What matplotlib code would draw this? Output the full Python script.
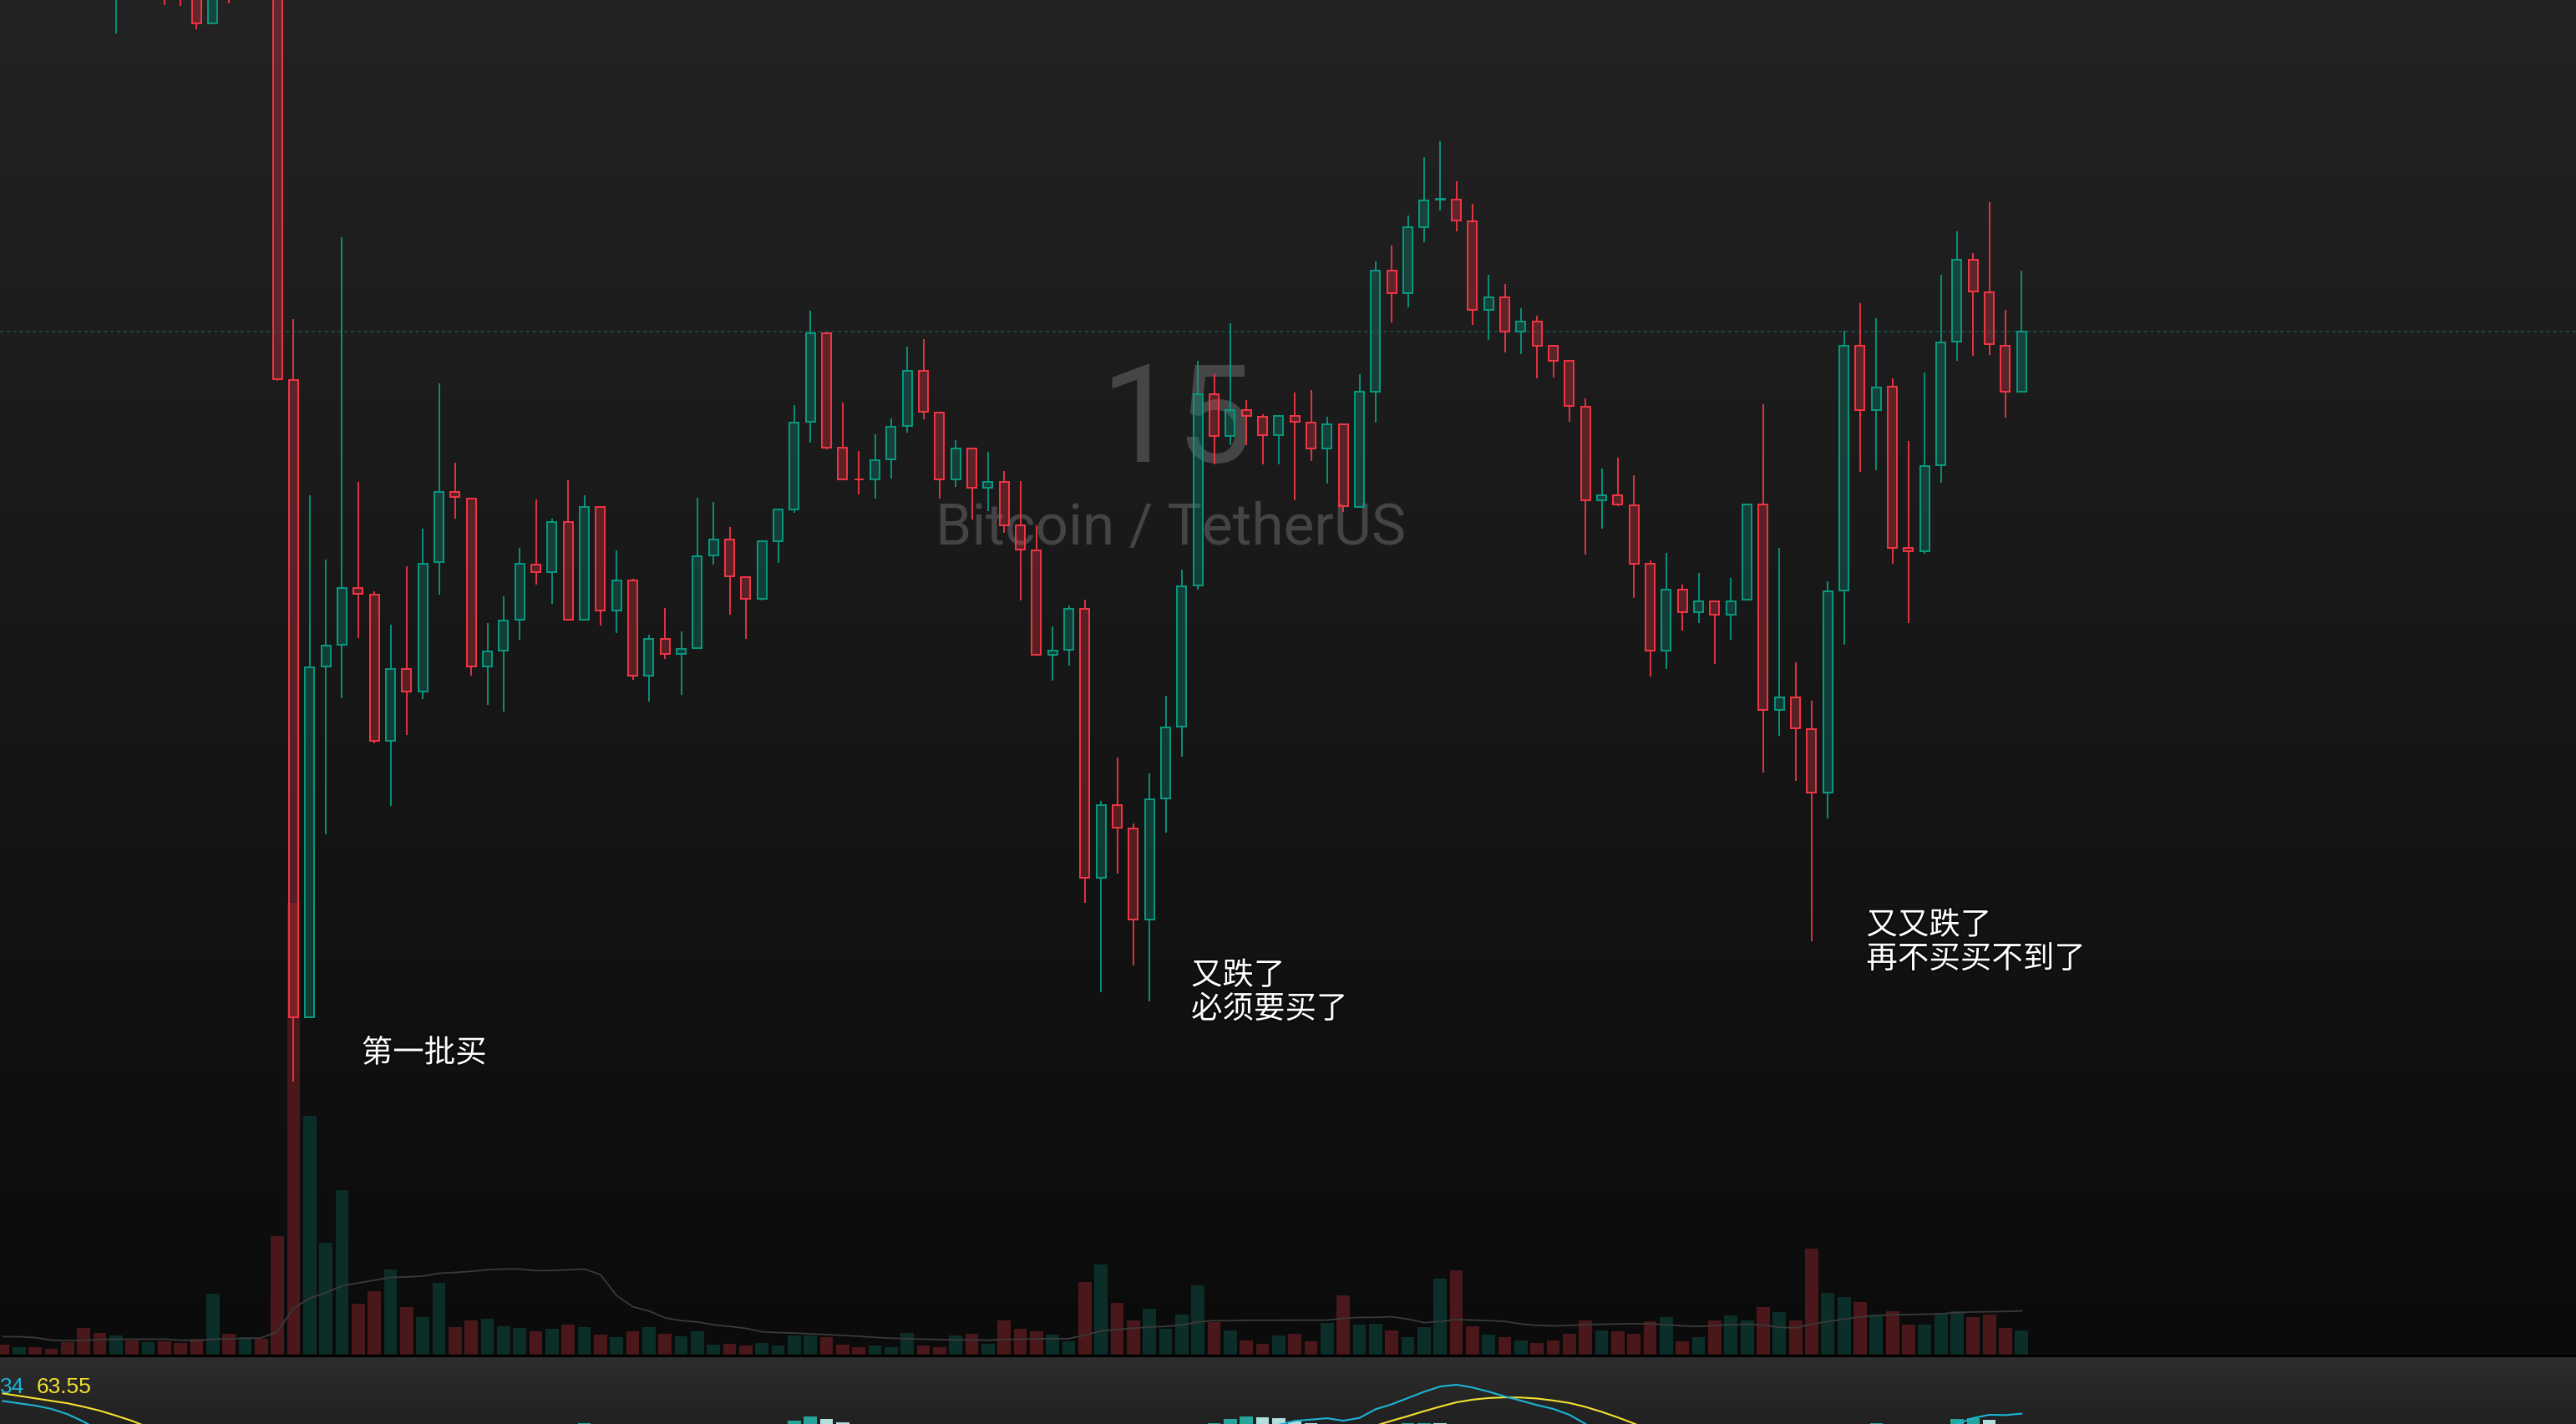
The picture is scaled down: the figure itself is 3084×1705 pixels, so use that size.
import numpy as np
import matplotlib
matplotlib.use("Agg")
import matplotlib.pyplot as plt
import matplotlib.patheffects as pe
from matplotlib.colors import LinearSegmentedColormap, to_rgba

nan = np.nan

# BTC/USDT 15m bars, first bars sit above the visible window
opens = [1060, 1054, 1060, 1048, 1040, 1030, 1020, 1006, 1018, 1012,
         1019, 1003, 1002, 985.2, 1003, 1000.5, 1008, 1004, 768.2, 380.4,
         594.1, 607.2, 641.7, 637.5, 548.6, 592.4, 578.9, 657.3, 700.3, 696.1,
         593.7, 603.8, 622.2, 656.0, 651.4, 681.9, 622.2, 691.0, 628.0, 646.2,
         588.2, 610.5, 601.5, 605.0, 661.5, 671.2, 648.5, 635.2, 670.2, 689.7,
         742.9, 796.7, 727.3, 708.0, 707.8, 719.8, 740.3, 774.0, 748.6, 707.7,
         726.7, 702.8, 706.3, 680.0, 664.8, 600.9, 604.1, 629.2, 465.5, 509.6,
         495.3, 440.1, 513.7, 557.4, 643.2, 759.4, 734.0, 750.0, 745.9, 734.9,
         746.5, 742.4, 726.7, 741.3, 691.0, 761.2, 835.0, 820.9, 861.5, 878.0,
         878.1, 864.7, 810.9, 818.6, 797.5, 803.8, 789.1, 780.0, 751.9, 694.9,
         698.1, 692.2, 656.3, 603.4, 640.6, 626.8, 633.4, 625.3, 634.6, 692.5,
         567.4, 575.2, 555.6, 517.0, 640.2, 789.0, 749.8, 764.1, 666.0, 664.2,
         716.5, 791.5, 841.6, 821.7, 789.3, 761.3]
highs = [1068, 1064, 1063, 1052, 1044, 1034, 1024, 1030, 1026, 1022,
         1022, 1008, 1006, 1010, 1008, 1012, 1014, 1010, 805.3, 698.2,
         659.0, 855.4, 706.2, 639.6, 619.4, 654.8, 677.6, 766.1, 718.0, 696.1,
         620.2, 636.7, 666.0, 695.8, 683.8, 707.2, 698.1, 691.0, 664.4, 647.5,
         613.5, 629.7, 615.1, 696.5, 693.9, 678.6, 648.5, 670.2, 689.7, 752.9,
         810.3, 796.7, 754.5, 725.0, 735.1, 744.8, 788.6, 793.1, 748.6, 731.6,
         726.7, 724.3, 712.7, 706.8, 679.7, 618.1, 631.0, 634.5, 511.9, 538.5,
         498.2, 529.1, 576.1, 652.9, 779.8, 771.9, 802.8, 756.2, 747.4, 746.5,
         760.5, 762.0, 745.9, 741.3, 771.6, 840.4, 849.9, 868.3, 904.0, 913.5,
         889.2, 875.3, 832.2, 826.5, 811.8, 807.3, 789.8, 780.0, 756.9, 714.2,
         721.2, 710.5, 658.3, 662.9, 644.0, 650.8, 633.4, 647.7, 692.5, 753.5,
         666.1, 596.3, 573.0, 645.8, 798.0, 814.9, 805.8, 769.1, 731.1, 772.8,
         832.3, 858.8, 845.4, 876.5, 811.1, 834.8]
lows = [1050, 1049, 1045, 1036, 1026, 1015, 1004, 979, 1008, 1005,
        996.6, 995.8, 981.5, 985.2, 997.6, 1000.2, 1001, 767.8, 341.6, 380.4,
        491.7, 574.7, 611.0, 547.0, 509.0, 552.4, 574.3, 637.5, 683.9, 588.6,
        570.5, 566.7, 610.2, 643.9, 632.3, 622.2, 622.2, 619.0, 614.4, 585.6,
        572.6, 598.5, 576.8, 605.0, 656.0, 625.5, 610.9, 634.0, 657.2, 687.7,
        730.2, 726.3, 707.8, 698.4, 696.2, 708.5, 736.4, 744.5, 696.3, 703.0,
        683.2, 688.7, 675.3, 633.9, 600.9, 585.5, 594.5, 450.1, 395.5, 468.1,
        412.1, 390.2, 493.0, 539.1, 640.9, 717.0, 728.7, 728.7, 717.0, 717.0,
        695.2, 719.1, 705.1, 688.2, 691.0, 742.1, 803.4, 812.5, 852.0, 871.5,
        858.8, 801.8, 792.7, 785.0, 784.1, 769.3, 769.8, 742.8, 662.0, 677.9,
        691.7, 635.6, 587.7, 592.5, 615.9, 620.6, 595.7, 610.4, 634.6, 529.4,
        551.8, 524.4, 426.7, 501.4, 607.2, 712.5, 713.4, 656.7, 620.6, 662.6,
        706.0, 780.0, 783.1, 783.7, 745.5, 761.3]
closes = [1054, 1060, 1048, 1040, 1030, 1020, 1008, 1018, 1012, 1019,
          1003, 1001, 985.2, 1003, 1000.5, 1008, 1004, 769.0, 380.4, 593.3,
          606.7, 641.7, 638.4, 548.6, 592.4, 578.9, 656.5, 700.3, 696.9, 593.7,
          603.0, 621.9, 656.3, 651.4, 681.9, 622.2, 691.0, 628.0, 646.2, 588.2,
          610.5, 601.5, 604.7, 661.1, 671.2, 648.8, 635.2, 670.2, 689.7, 742.5,
          796.7, 727.3, 707.8, 707.6, 719.5, 739.9, 774.0, 748.9, 707.7, 726.7,
          702.8, 706.3, 680.0, 665.1, 600.9, 603.8, 629.2, 465.5, 509.6, 495.9,
          440.1, 513.1, 556.9, 642.9, 759.4, 734.0, 750.0, 746.5, 734.9, 746.5,
          743.0, 726.7, 741.3, 691.7, 761.0, 835.0, 820.9, 861.5, 877.6, 878.5,
          865.1, 810.9, 818.6, 797.5, 803.8, 789.3, 780.2, 752.3, 694.9, 698.1,
          692.6, 656.7, 603.4, 640.6, 627.0, 633.4, 625.3, 633.7, 692.5, 567.4,
          575.2, 556.2, 517.0, 639.6, 789.0, 749.8, 763.8, 666.0, 664.2, 715.9,
          790.9, 841.6, 822.3, 790.0, 761.3, 797.8]
volumes = [6.1, 4.6, 4.6, 3.1, 7.6, 15.8, 13.2, 11.7, 8.6, 7.6,
           8.1, 7.1, 9.2, 37.1, 12.7, 10.7, 9.2, 71.7, 274.6, 144.9,
           68.1, 99.7, 31.0, 38.6, 51.4, 28.5, 22.9, 43.7, 16.3, 20.8,
           21.4, 17.3, 15.8, 14.2, 15.3, 18.3, 16.3, 12.2, 10.7, 14.2,
           16.3, 12.7, 11.2, 14.2, 6.1, 6.6, 5.6, 7.1, 5.6, 11.7,
           11.7, 10.7, 6.1, 4.6, 5.6, 4.6, 13.2, 5.6, 4.6, 11.7,
           12.7, 6.6, 20.8, 15.3, 14.2, 12.2, 8.1, 44.2, 54.9, 31.5,
           20.8, 27.5, 15.3, 24.4, 42.2, 19.8, 14.7, 8.6, 6.6, 11.7,
           12.7, 8.1, 19.3, 36.1, 18.3, 18.8, 14.7, 10.7, 16.8, 45.8,
           50.9, 17.3, 12.2, 10.2, 8.6, 7.1, 8.6, 12.7, 20.8, 14.7,
           14.2, 12.7, 20.3, 22.4, 8.1, 10.7, 20.8, 23.9, 20.8, 29.0,
           25.9, 20.8, 64.1, 37.6, 34.6, 32.0, 24.4, 26.4, 18.3, 18.3,
           24.9, 26.4, 22.9, 24.4, 15.8, 14.7]
volume_ma = [10.8, 10.7, 10.2, 8.6, 8.3, 8.5, 9.0, 9.2, 9.2, 9.2,
             9.2, 8.6, 8.3, 9.2, 9.5, 9.7, 10.0, 13.7, 28.1, 34.1,
             37.5, 41.7, 43.4, 45.1, 46.8, 47.1, 47.6, 49.3, 49.8, 50.5,
             51.4, 51.9, 51.9, 50.9, 51.0, 51.4, 51.9, 48.5, 35.8, 29.0,
             26.4, 22.2, 20.5, 19.7, 18.0, 17.0, 15.8, 13.7, 13.2, 12.9,
             12.5, 12.0, 11.5, 11.0, 10.3, 9.8, 9.5, 9.2, 9.0, 8.8,
             8.8, 8.6, 9.0, 9.2, 9.4, 9.5, 9.5, 11.7, 14.2, 15.1,
             15.9, 16.6, 17.0, 17.8, 19.7, 20.5, 20.5, 20.7, 20.7, 20.7,
             20.8, 20.8, 20.8, 21.9, 22.4, 22.5, 22.9, 21.4, 19.3, 20.0,
             21.2, 20.8, 20.5, 20.0, 18.5, 17.6, 17.3, 17.6, 18.1, 18.3,
             18.5, 18.6, 18.6, 18.0, 17.3, 17.0, 17.5, 18.0, 18.3, 17.8,
             16.4, 16.1, 18.3, 20.0, 21.4, 22.7, 23.6, 24.1, 24.2, 24.4,
             24.7, 25.4, 25.8, 25.9, 26.1, 26.4]

# MACD pane: only the top of the pane is on screen, nan where the line is out of view
macd_line = ([14.0, 12.6, 11.2, 9.2, 6.0, 1.4, -4.0] + [nan] * 71 +
             [-6.0, -0.5, 1.9, 2.7, 3.5, 2.0, 3.7, 9.0, 12.0, 15.8, 19.6,
              22.8, 23.9, 22.2, 19.7, 16.8, 14.2, 11.5, 9.2, 5.6, 0.0, -6.0] +
             [nan] * 20 + [-5.0, 0.0, 3.6, 5.6, 5.4, 6.3])
signal_line = ([18.6, 17.1, 15.6, 14.1, 12.6, 10.5, 8.1, 5.1, 1.9, -2.0] + [nan] * 74 +
               [-4.0, -1.0, 2.0, 4.8, 7.8, 10.6, 13.2, 14.8, 15.8, 16.2,
                16.1, 15.5, 14.3, 12.8, 10.4, 7.4, 4.0, 0.3, -4.0] + [nan] * 23)
hist_bars = [29, 42, 43, 44, 45, 68, 69, 70, 71, 72, 73, 74, 80, 81, 82, 109, 114, 115, 116]
hist_tops = [0.7, 1.9, 4.8, 3.3, 1.1, 0.3, 3.2, 4.8, 4.2, 3.7, 1.7, 0.3, 0.3, 0.7, 0.3, 0.3, 3.3, 3.8, 2.3]

RED = '#f23645'
TEAL = '#089981'
W, H = 1568.0, 867.0   # layout reference size

x = np.arange(-7, -7 + len(closes))
o, hi, lo, c = (np.array(a, dtype=float) for a in (opens, highs, lows, closes))
up = c >= o

fig = plt.figure(figsize=(30.84, 17.06), dpi=100, facecolor='#000000')
main_b = (H - 826.2) / H
rect = [0, main_b, 1, 1 - main_b]
xlim = (-7.18, 152.33)

# backgrounds
ax_bg = fig.add_axes(rect, zorder=0)
ax_bg.imshow(np.linspace(0, 1, 256)[:, None], aspect='auto', extent=[0, 1, 0, 1],
             cmap=LinearSegmentedColormap.from_list('bg', ['#232323', '#0b0b0b']))
ax_bg.set_axis_off()
ax_lbg = fig.add_axes([0, 0, 1, main_b], zorder=0)
ax_lbg.imshow(np.linspace(0, 1, 64)[:, None], aspect='auto', extent=[0, 1, 0, 1],
              cmap=LinearSegmentedColormap.from_list('bg2', ['#2d2d2d', '#212121']))
ax_lbg.set_axis_off()

# volume
ax_vol = fig.add_axes(rect, zorder=1)
ax_vol.patch.set_alpha(0)
ax_vol.bar(x, volumes, 0.82, color=np.where(up, '#0c2e28', '#4a171b'), zorder=2)
ax_vol.plot(x, volume_ma, color='#3a3a3a', lw=1.3, zorder=3)
ax_vol.axhspan(-1.6, 0, color='#000000', zorder=4)
ax_vol.set_xlim(xlim)
ax_vol.set_ylim(-1.6, 824.6)
ax_vol.set_axis_off()

# candles
ax = fig.add_axes(rect, zorder=2)
ax.patch.set_alpha(0)
edge = np.where(up, TEAL, RED)
body_lo = np.minimum(o, c)
body_hi = np.maximum(o, c)
ax.axhline(c[-1], color='#1a4a3c', lw=1.4, ls=(0, (2, 2)), zorder=1)
ax.vlines(x, body_hi, hi, colors=edge, lw=1.3, zorder=2)
ax.vlines(x, lo, body_lo, colors=edge, lw=1.3, zorder=2)
ax.bar(x, body_hi - body_lo, 0.57, bottom=body_lo, color=[to_rgba(e, 0.3) for e in edge],
       edgecolor=edge, linewidth=1.4, zorder=3)
ax.set_xlim(xlim)
ax.set_ylim(173.8, 1000)
ax.set_axis_off()

ax.text(716 / W, 1 - 281 / H, '15', transform=fig.transFigure, ha='center', va='baseline',
        fontsize=117, family='Roboto', color='white', alpha=0.19, zorder=0.5)
ax.text(712.5 / W, 1 - 331.3 / H, 'Bitcoin / TetherUS', transform=fig.transFigure,
        ha='center', va='baseline', fontsize=50, family='Roboto', color='white',
        alpha=0.19, zorder=0.5)

# notes
cjk = ['Noto Sans CJK SC', 'DejaVu Sans']
shadow = [pe.withStroke(linewidth=2.5, foreground='#0a0a0a')]
notes = [(220, 646.8, '第一批买'),
         (725, 599.6, '又跌了'), (725, 620.0, '必须要买了'),
         (1136, 569.0, '又又跌了'), (1136, 589.5, '再不买买不到了')]
for nx, ny, s in notes:
    fig.text(nx / W, 1 - ny / H, s, fontsize=27, family=cjk, color='white',
             va='baseline', ha='left', path_effects=shadow, zorder=10)

# MACD pane
ax_low = fig.add_axes([0, 0, 1, main_b], zorder=1)
ax_low.patch.set_alpha(0)
hist_col = []
for k, (i, v) in enumerate(zip(hist_bars, hist_tops)):
    rising = k == 0 or hist_bars[k - 1] != i - 1 or v >= hist_tops[k - 1]
    hist_col.append('#26a69a' if rising else '#b2dfdb')
ax_low.bar(hist_bars, np.array(hist_tops) + 30, 0.8, bottom=-30, color=hist_col, zorder=1)
ax_low.plot(x, signal_line, color='#f5e12f', lw=1.5, zorder=2)
ax_low.plot(x, macd_line, color='#1cb5d6', lw=1.5, zorder=3)
ax_low.set_xlim(xlim)
ax_low.set_ylim(0, 40.8)
ax_low.set_axis_off()

fig.text(0.0, (H - 847.7) / H, '34', color='#1cb5d6', fontsize=19,
         family='Liberation Sans', va='baseline', ha='left')
fig.text(22 / W, (H - 847.7) / H, '63.55', color='#f5e12f', fontsize=19,
         family='Liberation Sans', va='baseline', ha='left')

fig.savefig('out.png', dpi=100, facecolor=fig.get_facecolor())
